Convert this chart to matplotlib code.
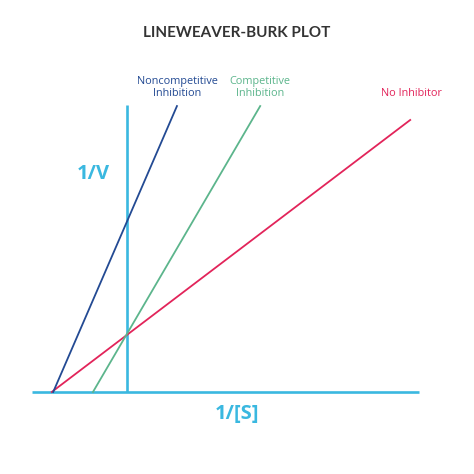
import matplotlib
matplotlib.use("Agg")
import matplotlib.pyplot as plt

# Data (in 1/[S], 1/V units)
no_inh_x = [-1.0, 3.78]
no_inh_y = [0.0, 4.69]
noncomp_x = [-0.98, 0.67]
noncomp_y = [0.0, 4.93]
comp_x = [-0.45, 1.78]
comp_y = [0.0, 4.93]

x_axis_range = [-1.26, 3.90]
y_axis_range = [0.0, 4.95]

title = "LINEWEAVER-BURK PLOT"
xlabel = "1/[S]"
ylabel = "1/V"
labels = ["Noncompetitive\nInhibition", "Competitive\nInhibition", "No Inhibitor"]

AX = "#3ab8e0"
BLUE = "#234a93"
GREEN = "#5cb58c"
RED = "#e2245a"

fig = plt.figure(figsize=(4.74, 4.74), dpi=100)
ax = fig.add_axes([0, 0, 1, 1])
ax.set_xlim(-126.7 / 75, (474 - 126.7) / 75)
ax.set_ylim((392 - 474) / 58, 392 / 58)
ax.axis("off")

ax.plot(x_axis_range, [0, 0], color=AX, lw=1.9, solid_capstyle="butt")
ax.plot([0, 0], y_axis_range, color=AX, lw=1.9, solid_capstyle="butt")

ax.plot(no_inh_x, no_inh_y, color=RED, lw=1.3)
ax.plot(comp_x, comp_y, color=GREEN, lw=1.3)
ax.plot(noncomp_x, noncomp_y, color=BLUE, lw=1.3)

fam = ["Open Sans", "DejaVu Sans"]
ax.text(noncomp_x[1], 5.25, labels[0], color=BLUE, ha="center", va="center",
        fontsize=7.8, family=fam, linespacing=1.1)
ax.text(comp_x[1], 5.25, labels[1], color=GREEN, ha="center", va="center",
        fontsize=7.8, family=fam, linespacing=1.1)
ax.text(3.80, 5.14, labels[2], color=RED, ha="center", va="center",
        fontsize=7.8, family=fam)

ax.text(-0.45, 3.76, ylabel, color=AX, ha="center", va="center",
        fontsize=14.5, fontweight="bold", family=fam)
ax.text(1.47, -0.38, xlabel, color=AX, ha="center", va="center",
        fontsize=14.5, fontweight="bold", family=fam)

fig.text(0.5, 1 - 33 / 474, title, color="#333333", ha="center", va="center",
         fontsize=11, fontweight="bold", family=["Lato", "DejaVu Sans"])

fig.savefig("out.png", dpi=100, facecolor="white")
